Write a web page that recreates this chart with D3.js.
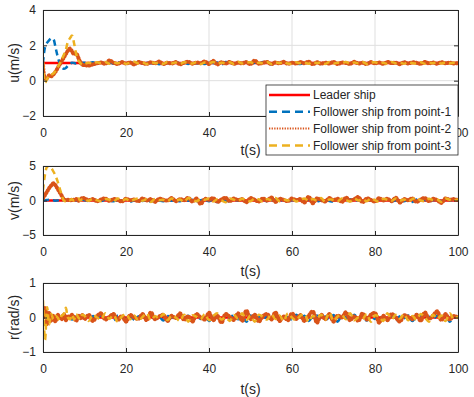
<!DOCTYPE html>
<html>
<head>
<meta charset="utf-8">
<script src="https://cdn.jsdelivr.net/npm/d3@7"></script>
<style>
  body { margin: 0; background: #fff; }
  svg { display: block; font-family: "Liberation Sans", Arial, sans-serif; }
</style>
</head>
<body>
<script>
// sample times: half-second steps for the transient, then one per second
const times = d3.range(0, 10, 0.5).concat(d3.range(10, 101, 1));
const leaderTimes = [0, 100];
const xTicks = [0, 20, 40, 60, 80, 100];

const seriesNames = ['Leader ship', 'Follower ship from point-1', 'Follower ship from point-2', 'Follower ship from point-3'];

// u (m/s)
const uTicks = [-2, 0, 2, 4];
const uLeader = [1, 1];
const uFollower1 = [
  1.0, 1.9, 2.15, 2.3, 2.4, 2.35, 1.9, 1.4, 1.0, 0.75,
  0.68, 0.72, 0.85, 0.95, 1.02, 1.0, 0.97, 1.02, 0.98, 1.01,
  1.02, 0.97, 1.04, 0.95, 1.03, 0.98, 1.06, 0.96, 1.01, 1.05,
  0.94, 1.03, 0.99, 1.07, 0.96, 1.02, 0.98, 1.05, 0.93, 1.04,
  1.00, 0.96, 1.06, 0.98, 1.03, 0.95, 1.08, 0.97, 1.02, 0.94,
  1.05, 0.99, 1.03, 0.92, 1.06, 1.00, 0.96, 1.04, 0.98, 1.07,
  0.95, 1.02, 0.97, 1.05, 1.00, 0.93, 1.04, 0.98, 1.06, 0.96,
  1.03, 0.99, 0.94, 1.07, 1.01, 0.97, 1.04, 0.95, 1.02, 0.98,
  1.06, 0.96, 1.03, 1.00, 0.94, 1.05, 0.98, 1.02, 0.96, 1.07,
  0.99, 1.03, 0.95, 1.04, 0.98, 1.01, 0.94, 1.06, 0.97, 1.03,
  1.00, 0.95, 1.05, 0.98, 1.02, 0.96, 1.04, 0.99, 1.03, 0.97,
  1.01
];
const uFollower2 = [
  1.0, 0.1, 0.15, 0.3, 0.25, 0.35, 0.5, 0.7, 0.9, 1.1,
  1.3, 1.5, 1.7, 1.82, 1.65, 1.5, 1.55, 1.3, 1.05, 0.9,
  0.88, 0.85, 0.92, 0.98, 1.03, 0.96, 1.15, 1.02, 0.94, 1.05,
  0.97, 1.03, 0.92, 1.06, 0.99, 0.95, 1.04, 0.98, 1.08, 0.94,
  1.02, 0.97, 1.05, 0.93, 1.01, 1.07, 0.96, 1.03, 0.99, 1.09,
  0.94, 1.12, 0.92, 1.04, 0.97, 1.06, 0.95, 1.02, 0.98, 1.05,
  0.93, 1.14, 0.96, 1.01, 1.06, 0.94, 1.03, 0.98, 1.07, 0.95,
  1.02, 0.97, 1.05, 0.99, 1.08, 0.93, 1.04, 0.96, 1.02, 0.97,
  1.06, 0.94, 1.03, 1.00, 0.95, 1.07, 0.97, 1.02, 0.94, 1.05,
  0.98, 1.03, 0.95, 1.06, 0.99, 1.02, 0.93, 1.05, 0.97, 1.04,
  1.01, 0.95, 1.06, 0.98, 1.03, 0.96, 1.05, 0.98, 1.02, 0.97,
  1.0
];
const uFollower3 = [
  1.0, -0.1, 0.1, 0.3, 0.35, 0.4, 0.55, 0.75, 0.95, 1.2,
  1.45, 1.75, 2.2, 2.4, 2.55, 2.1, 1.5, 1.15, 1.0, 0.9,
  0.95, 1.02, 0.97, 1.04, 0.99, 1.06, 0.96, 1.03, 0.98, 1.05,
  0.95, 1.02, 1.07, 0.97, 1.03, 0.94, 1.05, 0.99, 1.02, 0.96,
  1.06, 0.98, 1.03, 0.95, 1.04, 1.00, 0.97, 1.05, 0.94, 1.03,
  0.98, 1.06, 0.96, 1.02, 0.99, 1.04, 0.95, 1.07, 0.97, 1.01,
  1.04, 0.96, 1.02, 0.98, 1.05, 0.94, 1.03, 0.99, 1.06, 0.97,
  0.95, 1.04, 0.98, 1.02, 0.96, 1.06, 0.99, 1.03, 0.95, 1.05,
  0.97, 1.02, 0.99, 1.05, 0.96, 1.03, 0.98, 1.06, 0.95, 1.02,
  1.04, 0.97, 1.01, 0.95, 1.05, 0.98, 1.03, 0.96, 1.04, 0.99,
  0.97, 1.04, 0.96, 1.02, 0.99, 1.05, 0.97, 1.03, 0.98, 1.02,
  1.0
];

// v (m/s)
const vTicks = [-5, 0, 5];
const vLeader = [0, 0];
const vFollower1 = [
  0, 0.05, 0.08, 0.1, 0.06, 0.02, -0.03, 0, 0.04, 0.02,
  -0.02, 0.05, 0.1, -0.05, 0.08, 0.12, 0.03, -0.04, 0.06, 0.1,
  0.05, -0.08, 0.12, 0.02, -0.1, 0.15, 0.0, -0.12, 0.08, -0.05,
  0.1, -0.15, 0.05, 0.12, -0.08, 0.03, -0.18, 0.1, 0.0, -0.1,
  0.15, -0.05, 0.08, -0.12, 0.2, -0.02, 0.1, -0.15, 0.05, 0.12,
  -0.1, 0.18, -0.25, 0.08, 0.02, -0.12, 0.15, -0.05, 0.1, -0.2,
  0.05, 0.12, -0.08, 0.2, -0.15, 0.02, 0.1, -0.1, 0.15, -0.22,
  0.08, -0.05, 0.12, -0.18, 0.05, 0.2, -0.1, 0.02, 0.15, -0.08,
  -0.15, 0.1, 0.05, -0.12, 0.18, -0.05, 0.08, -0.2, 0.12, 0.0,
  -0.1, 0.15, -0.05, 0.2, -0.15, 0.05, 0.1, -0.12, 0.08, -0.2,
  0.15, -0.05, 0.1, -0.18, 0.05, 0.12, -0.1, 0.08, -0.05, 0.15,
  0.0
];
const vFollower2 = [
  0.3, 0.8, 1.3, 1.8, 2.2, 2.5, 2.2, 1.7, 1.2, 0.7,
  0.2, 0.05, 0.1, 0.0, 0.15, 0.1, 0.2, -0.05, 0.15, 0.4,
  0.3, 0.05, 0.2, -0.1, 0.15, 0.3, -0.05, 0.2, 0.1, -0.15,
  0.25, 0.05, 0.15, -0.1, 0.3, 0.0, 0.2, -0.2, 0.25, 0.1,
  0.0, 0.35, -0.1, 0.2, 0.05, 0.4, -0.15, 0.3, -0.5, 0.25,
  0.1, 0.35, -0.2, 0.15, 0.4, -0.1, 0.3, 0.05, 0.2, -0.25,
  0.35, 0.1, -0.15, 0.3, 0.0, 0.45, -0.2, 0.25, 0.1, -0.1,
  0.3, 0.05, 0.2, -0.3, 0.55, -0.4, 0.3, 0.1, -0.15, 0.35,
  0.05, 0.25, -0.2, 0.4, 0.0, 0.2, 0.5, -0.25, 0.3, 0.1,
  -0.15, 0.35, 0.0, 0.25, -0.1, 0.4, -0.3, 0.2, 0.05, 0.3,
  -0.2, 0.15, 0.35, -0.1, 0.25, 0.05, -0.35, 0.3, 0.1, 0.2,
  0.05
];
const vFollower3 = [
  1.5, 3.8, 4.9, 5.0, 4.7, 4.2, 3.6, 2.8, 1.8, 0.8,
  0.0, -0.1, 0.1, 0.05, 0.2, -0.05, 0.15, 0.3, 0.0, 0.2,
  0.15, -0.05, 0.25, 0.05, -0.1, 0.2, 0.1, -0.15, 0.3, 0.0,
  0.2, -0.1, 0.15, 0.3, -0.05, 0.2, -0.2, 0.25, 0.05, 0.1,
  -0.1, 0.3, 0.0, 0.15, -0.2, 0.35, 0.05, -0.1, 0.2, 0.1,
  0.3, -0.15, 0.2, 0.0, -0.25, 0.3, 0.1, -0.05, 0.25, 0.0,
  -0.1, 0.3, 0.15, -0.2, 0.2, 0.05, 0.35, -0.1, 0.15, 0.0,
  0.25, -0.15, 0.1, 0.3, -0.05, 0.2, 0.0, 0.35, -0.2, 0.15,
  0.1, -0.1, 0.3, 0.05, -0.15, 0.25, 0.0, 0.2, -0.1, 0.3,
  0.05, -0.2, 0.25, 0.1, -0.05, 0.3, 0.0, 0.15, -0.15, 0.2,
  0.35, 0.0, -0.1, 0.25, 0.05, 0.15, -0.2, 0.3, 0.1, 0.0,
  0.2
];

// r (rad/s)
const rTicks = [-1, 0, 1];
const rLeader = [0, 0];
const rFollower1 = [
  0.0, 0.1, -0.1, 0.05, -0.05, 0.02, -0.08, 0.05, 0.0, -0.03,
  0.06, -0.05, 0.03, 0.0, -0.06, 0.04, 0.0, -0.04, 0.05, 0.0,
  0.03, -0.06, 0.04, -0.02, 0.07, -0.05, 0.01, -0.08, 0.05, 0.0,
  -0.04, 0.06, -0.07, 0.03, 0.05, -0.03, 0.08, -0.06, 0.02, -0.09,
  0.04, 0.0, -0.05, 0.07, -0.02, 0.05, -0.08, 0.03, -0.04, 0.06,
  -0.1, 0.04, 0.02, -0.07, 0.05, -0.03, 0.08, -0.05, 0.01, -0.12,
  0.06, -0.04, 0.03, -0.08, 0.07, -0.02, 0.05, -0.09, 0.04, 0.0,
  -0.06, 0.08, -0.03, 0.05, -0.1, 0.02, 0.06, -0.05, 0.03, -0.08,
  0.07, -0.12, 0.04, 0.0, -0.05, 0.08, -0.03, 0.06, -0.09, 0.02,
  -0.04, 0.07, -0.06, 0.03, 0.05, -0.08, 0.04, -0.02, 0.06, -0.1,
  0.03, 0.05, -0.07, 0.02, -0.04, 0.06, -0.05, 0.08, -0.12, 0.03,
  0.0
];
const rFollower2 = [
  0.0, 0.3, -0.2, 0.15, -0.1, 0.05, -0.12, 0.08, 0.0, -0.05,
  0.1, -0.08, 0.05, -0.03, 0.08, 0.0, -0.1, 0.06, -0.02, 0.07,
  -0.05, 0.08, -0.1, 0.04, 0.12, -0.06, 0.02, 0.1, -0.08, 0.05,
  -0.12, 0.07, 0.0, -0.04, 0.1, -0.08, 0.15, -0.05, 0.03, 0.08,
  -0.1, 0.05, -0.02, 0.12, -0.07, 0.04, -0.12, 0.1, 0.0, -0.06,
  0.14, -0.08, 0.05, -0.15, 0.1, 0.02, -0.07, 0.12, -0.1, 0.2,
  -0.05, 0.08, -0.12, 0.04, 0.1, -0.06, 0.15, -0.1, 0.03, -0.08,
  0.12, -0.04, 0.07, -0.1, 0.05, 0.18, -0.15, 0.08, -0.05, 0.1,
  -0.12, 0.06, 0.0, 0.15, -0.08, 0.04, -0.1, 0.12, -0.06, 0.08,
  0.13, -0.15, 0.05, -0.08, 0.1, 0.0, -0.12, 0.06, 0.02, -0.05,
  0.08, -0.1, 0.15, -0.04, 0.06, 0.18, -0.08, 0.1, -0.06, 0.04,
  0.0
];
const rFollower3 = [
  0.5, -0.65, 0.3, -0.2, 0.1, -0.05, 0.05, 0.0, -0.08, 0.05,
  0.1, 0.28, 0.0, -0.05, 0.08, -0.06, 0.1, 0.0, -0.05, 0.08,
  0.05, -0.1, 0.08, 0.0, -0.06, 0.12, -0.04, 0.07, -0.12, 0.03,
  0.1, -0.05, 0.06, -0.1, 0.02, 0.12, -0.08, 0.04, -0.03, 0.1,
  -0.07, 0.05, 0.0, -0.1, 0.08, -0.12, 0.06, 0.02, -0.05, 0.1,
  -0.08, 0.04, 0.12, -0.06, 0.0, -0.1, 0.07, -0.03, 0.12, -0.07,
  0.05, -0.12, 0.08, 0.02, -0.06, 0.1, -0.04, 0.06, -0.1, 0.12,
  0.0, -0.08, 0.05, 0.1, -0.12, 0.04, -0.02, 0.08, -0.06, 0.14,
  -0.1, 0.03, 0.08, -0.05, 0.12, -0.08, 0.0, -0.04, 0.1, -0.12,
  0.06, 0.02, -0.1, 0.12, -0.05, 0.08, -0.03, 0.1, -0.08, 0.04,
  -0.06, 0.1, 0.0, -0.12, 0.08, -0.04, 0.06, -0.1, 0.12, -0.05,
  0.03
];

const width = 474, height = 397;
const left = 43, right = 458;
const axisColor = '#262626';
const gridColor = '#dfdfdf';

// line look for each series (leader, point-1, point-2, point-3)
const lineStyles = [
  { color: '#ff0000', width: 2.5, dash: null, cap: 'butt' },
  { color: '#0072bd', width: 2.5, dash: '6,4', cap: 'butt' },
  { color: '#d95319', width: 4, dash: '0.5,2.5', cap: 'round' },
  { color: '#edb120', width: 2.5, dash: '6,4', cap: 'butt' }
];

const panels = [
  { label: 'u(m/s)', domain: [-2, 4], ticks: uTicks, top: 10, bottom: 116, xLabelY: 155,
    data: [uLeader, uFollower1, uFollower2, uFollower3] },
  { label: 'v(m/s)', domain: [-5, 5], ticks: vTicks, top: 166, bottom: 235, xLabelY: 276,
    data: [vLeader, vFollower1, vFollower2, vFollower3] },
  { label: 'r(rad/s)', domain: [-1, 1], ticks: rTicks, top: 283, bottom: 352, xLabelY: 394,
    data: [rLeader, rFollower1, rFollower2, rFollower3] }
];

const svg = d3.select('body').append('svg')
  .attr('width', width)
  .attr('height', height);

svg.append('rect')
  .attr('width', width)
  .attr('height', height)
  .attr('fill', '#fff');

const x = d3.scaleLinear().domain([0, 100]).range([left, right]);

function styleAxis(a) {
  a.select('.domain').attr('stroke', axisColor).attr('stroke-width', 1);
  a.selectAll('.tick line').attr('stroke', axisColor);
  a.selectAll('.tick text').attr('fill', axisColor).attr('font-size', 12);
}

panels.forEach((p, i) => {
  const y = d3.scaleLinear().domain(p.domain).range([p.bottom, p.top]);
  const g = svg.append('g');

  // grid lines
  g.selectAll('.vgrid')
    .data(xTicks)
    .join('line')
    .attr('x1', d => x(d)).attr('x2', d => x(d))
    .attr('y1', p.top).attr('y2', p.bottom)
    .attr('stroke', gridColor);
  g.selectAll('.hgrid')
    .data(p.ticks)
    .join('line')
    .attr('x1', left).attr('x2', right)
    .attr('y1', d => y(d)).attr('y2', d => y(d))
    .attr('stroke', gridColor);

  // clip the curves to the plot box
  svg.append('clipPath')
    .attr('id', 'clip' + i)
    .append('rect')
    .attr('x', left).attr('y', p.top)
    .attr('width', right - left).attr('height', p.bottom - p.top);

  const lines = g.append('g').attr('clip-path', `url(#clip${i})`);
  p.data.forEach((vals, k) => {
    const ts = k === 0 ? leaderTimes : times;
    const line = d3.line()
      .x((d, j) => x(ts[j]))
      .y(d => y(d))
      .curve(k === 0 ? d3.curveLinear : d3.curveCatmullRom);
    lines.append('path')
      .datum(vals)
      .attr('d', line)
      .attr('fill', 'none')
      .attr('stroke', lineStyles[k].color)
      .attr('stroke-width', lineStyles[k].width)
      .attr('stroke-dasharray', lineStyles[k].dash)
      .attr('stroke-linecap', lineStyles[k].cap)
      .attr('stroke-linejoin', 'round');
  });

  // axes, ticks inside on all four sides
  const bottomAxis = g.append('g')
    .attr('transform', `translate(0,${p.bottom})`)
    .call(d3.axisBottom(x).tickValues(xTicks).tickSize(-4).tickSizeOuter(0).tickPadding(12).tickFormat(d3.format('d')));
  styleAxis(bottomAxis);
  const topAxis = g.append('g')
    .attr('transform', `translate(0,${p.top})`)
    .call(d3.axisTop(x).tickValues(xTicks).tickSize(-4).tickSizeOuter(0).tickFormat(''));
  styleAxis(topAxis);
  const leftAxis = g.append('g')
    .attr('transform', `translate(${left},0)`)
    .call(d3.axisLeft(y).tickValues(p.ticks).tickSize(-4).tickSizeOuter(0).tickPadding(7).tickFormat(d3.format('d')));
  styleAxis(leftAxis);
  const rightAxis = g.append('g')
    .attr('transform', `translate(${right},0)`)
    .call(d3.axisRight(y).tickValues(p.ticks).tickSize(-4).tickSizeOuter(0).tickFormat(''));
  styleAxis(rightAxis);
  g.selectAll('.domain').attr('fill', 'none');

  // axis titles
  g.append('text')
    .attr('transform', `translate(19,${(p.top + p.bottom) / 2}) rotate(-90)`)
    .attr('text-anchor', 'middle')
    .attr('font-size', 14)
    .attr('fill', axisColor)
    .text(p.label);
  g.append('text')
    .attr('x', (left + right) / 2)
    .attr('y', p.xLabelY)
    .attr('text-anchor', 'middle')
    .attr('font-size', 14)
    .attr('fill', axisColor)
    .text('t(s)');
});

// legend sits over the first panel's lower right corner (hides most of the "100" label, as in the original)
const legend = svg.append('g');
legend.append('rect')
  .attr('x', 266).attr('y', 85)
  .attr('width', 192).attr('height', 70)
  .attr('fill', '#fff')
  .attr('stroke', axisColor)
  .attr('stroke-width', 0.8);

seriesNames.forEach((name, k) => {
  const cy = 95 + k * 16.8;
  const s = lineStyles[k];
  legend.append('line')
    .attr('x1', 269).attr('x2', 310)
    .attr('y1', cy).attr('y2', cy)
    .attr('stroke', s.color)
    .attr('stroke-width', k === 2 ? 2 : s.width)
    .attr('stroke-dasharray', k === 2 ? '1.3,1.3' : (s.dash ? '8,5' : null))
    .attr('stroke-linecap', 'butt');
  legend.append('text')
    .attr('x', 313).attr('y', cy)
    .attr('dy', '0.35em')
    .attr('font-size', 12)
    .attr('fill', axisColor)
    .text(name);
});
</script>
</body>
</html>
